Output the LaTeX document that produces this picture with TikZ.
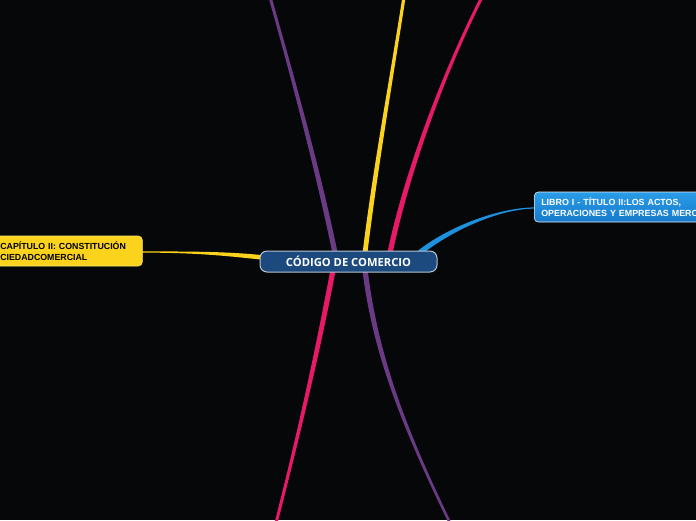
\documentclass[tikz,border=0pt]{standalone}
\usepackage{fontspec}
\setmainfont{Liberation Sans}
\newfontfamily\rootfont{Open Sans}
\usetikzlibrary{calc}
\definecolor{bgc}{HTML}{050709}
\definecolor{rootfill}{HTML}{1D4A7E}
\definecolor{rootline}{HTML}{B8C4D0}
\definecolor{ylw}{HTML}{FBD21C}
\definecolor{pnk}{HTML}{E81A68}
\definecolor{prp}{HTML}{6A3A85}
\definecolor{blu}{HTML}{1E90E0}
\definecolor{blutop}{HTML}{2A9CE8}
\definecolor{blubot}{HTML}{167ACB}
\newcommand\taperbranch[7]{%
  \path ($(#1)!#5!90:(#2)$) coordinate (tA1)
        ($(#1)!#5!-90:(#2)$) coordinate (tA2)
        ($(#4)!#6!-90:(#3)$) coordinate (tB1)
        ($(#4)!#6!90:(#3)$) coordinate (tB2);
  \fill[#7] (tA1) .. controls ($(#2)+(tA1)-(#1)$) and ($(#3)+(tB1)-(#4)$) .. (tB1)
    -- (tB2) .. controls ($(#3)+(tB2)-(#4)$) and ($(#2)+(tA2)-(#1)$) .. (tA2) -- cycle;}
\tikzset{
  rootnode/.style={draw=rootline, line width=1pt, fill=rootfill, rounded corners=7pt,
    minimum width=177pt, minimum height=21pt, inner sep=0pt, text=white,
    font=\rootfont\bfseries\fontsize{11.2}{12}\selectfont},
  leftnode/.style={draw=ylw!60!white, line width=0.6pt, fill=ylw, rounded corners=4pt,
    text width=135pt, align=left, inner xsep=7pt, inner ysep=0pt, minimum height=30pt,
    text=black, font=\bfseries\fontsize{8.8}{11}\selectfont, anchor=west},
  rightnode/.style={draw=white!85!blu, line width=0.6pt, top color=blutop, bottom color=blubot,
    rounded corners=4pt, text width=200pt, align=left, inner xsep=7pt, inner ysep=0pt,
    minimum height=30pt, text=white, font=\bfseries\fontsize{8.9}{11}\selectfont, anchor=west}
}
\begin{document}
\begin{tikzpicture}[x=1pt,y=-1pt]
\fill[bgc] (0,0) rectangle (696,520);
\useasboundingbox (0,0) rectangle (696,520);
\clip (0,0) rectangle (696,520);
% free ends of branches
\coordinate (pt) at (270,-3);
\coordinate (yt) at (404,-3);
\coordinate (kt) at (482,-3);
\coordinate (kb) at (276,523);
\coordinate (pb) at (450,523);
% branch starts at root
\coordinate (rpt) at (335,253);
\coordinate (ryt) at (365,253);
\coordinate (rkt) at (390,253);
\coordinate (rkb) at (333,270);
\coordinate (rpb) at (365,270);
\coordinate (ryl) at (268,258);
\coordinate (rbl) at (418,254);
\coordinate (lend) at (141,252);
\coordinate (bend) at (535,208);
% branches
\taperbranch{rpt}{318,170}{292,75}{pt}{2.6pt}{1.5pt}{prp}
\taperbranch{ryt}{375,170}{392,75}{yt}{2.4pt}{1.6pt}{ylw}
\taperbranch{rkt}{405,180}{440,80}{kt}{2.6pt}{1.5pt}{pnk}
\taperbranch{rkb}{320,340}{300,430}{kb}{2.6pt}{1.5pt}{pnk}
\taperbranch{rpb}{375,350}{400,420}{pb}{2.6pt}{1.3pt}{prp}
\taperbranch{ryl}{230,254}{200,252}{lend}{2.3pt}{0.6pt}{ylw}
\taperbranch{rbl}{450,228}{500,208}{bend}{2.6pt}{0.6pt}{blu}
% nodes
\node[rootnode] (root) at (348.5,261.5) {CÓDIGO DE COMERCIO};
\node[leftnode] (cap) at (-7,251) {CAPÍTULO II: CONSTITUCIÓN\\CIEDADCOMERCIAL};
\node[rightnode] (libro) at (534,207) {LIBRO I - TÍTULO II:LOS ACTOS,\\OPERACIONES Y EMPRESAS MERC};
\end{tikzpicture}
\end{document}
